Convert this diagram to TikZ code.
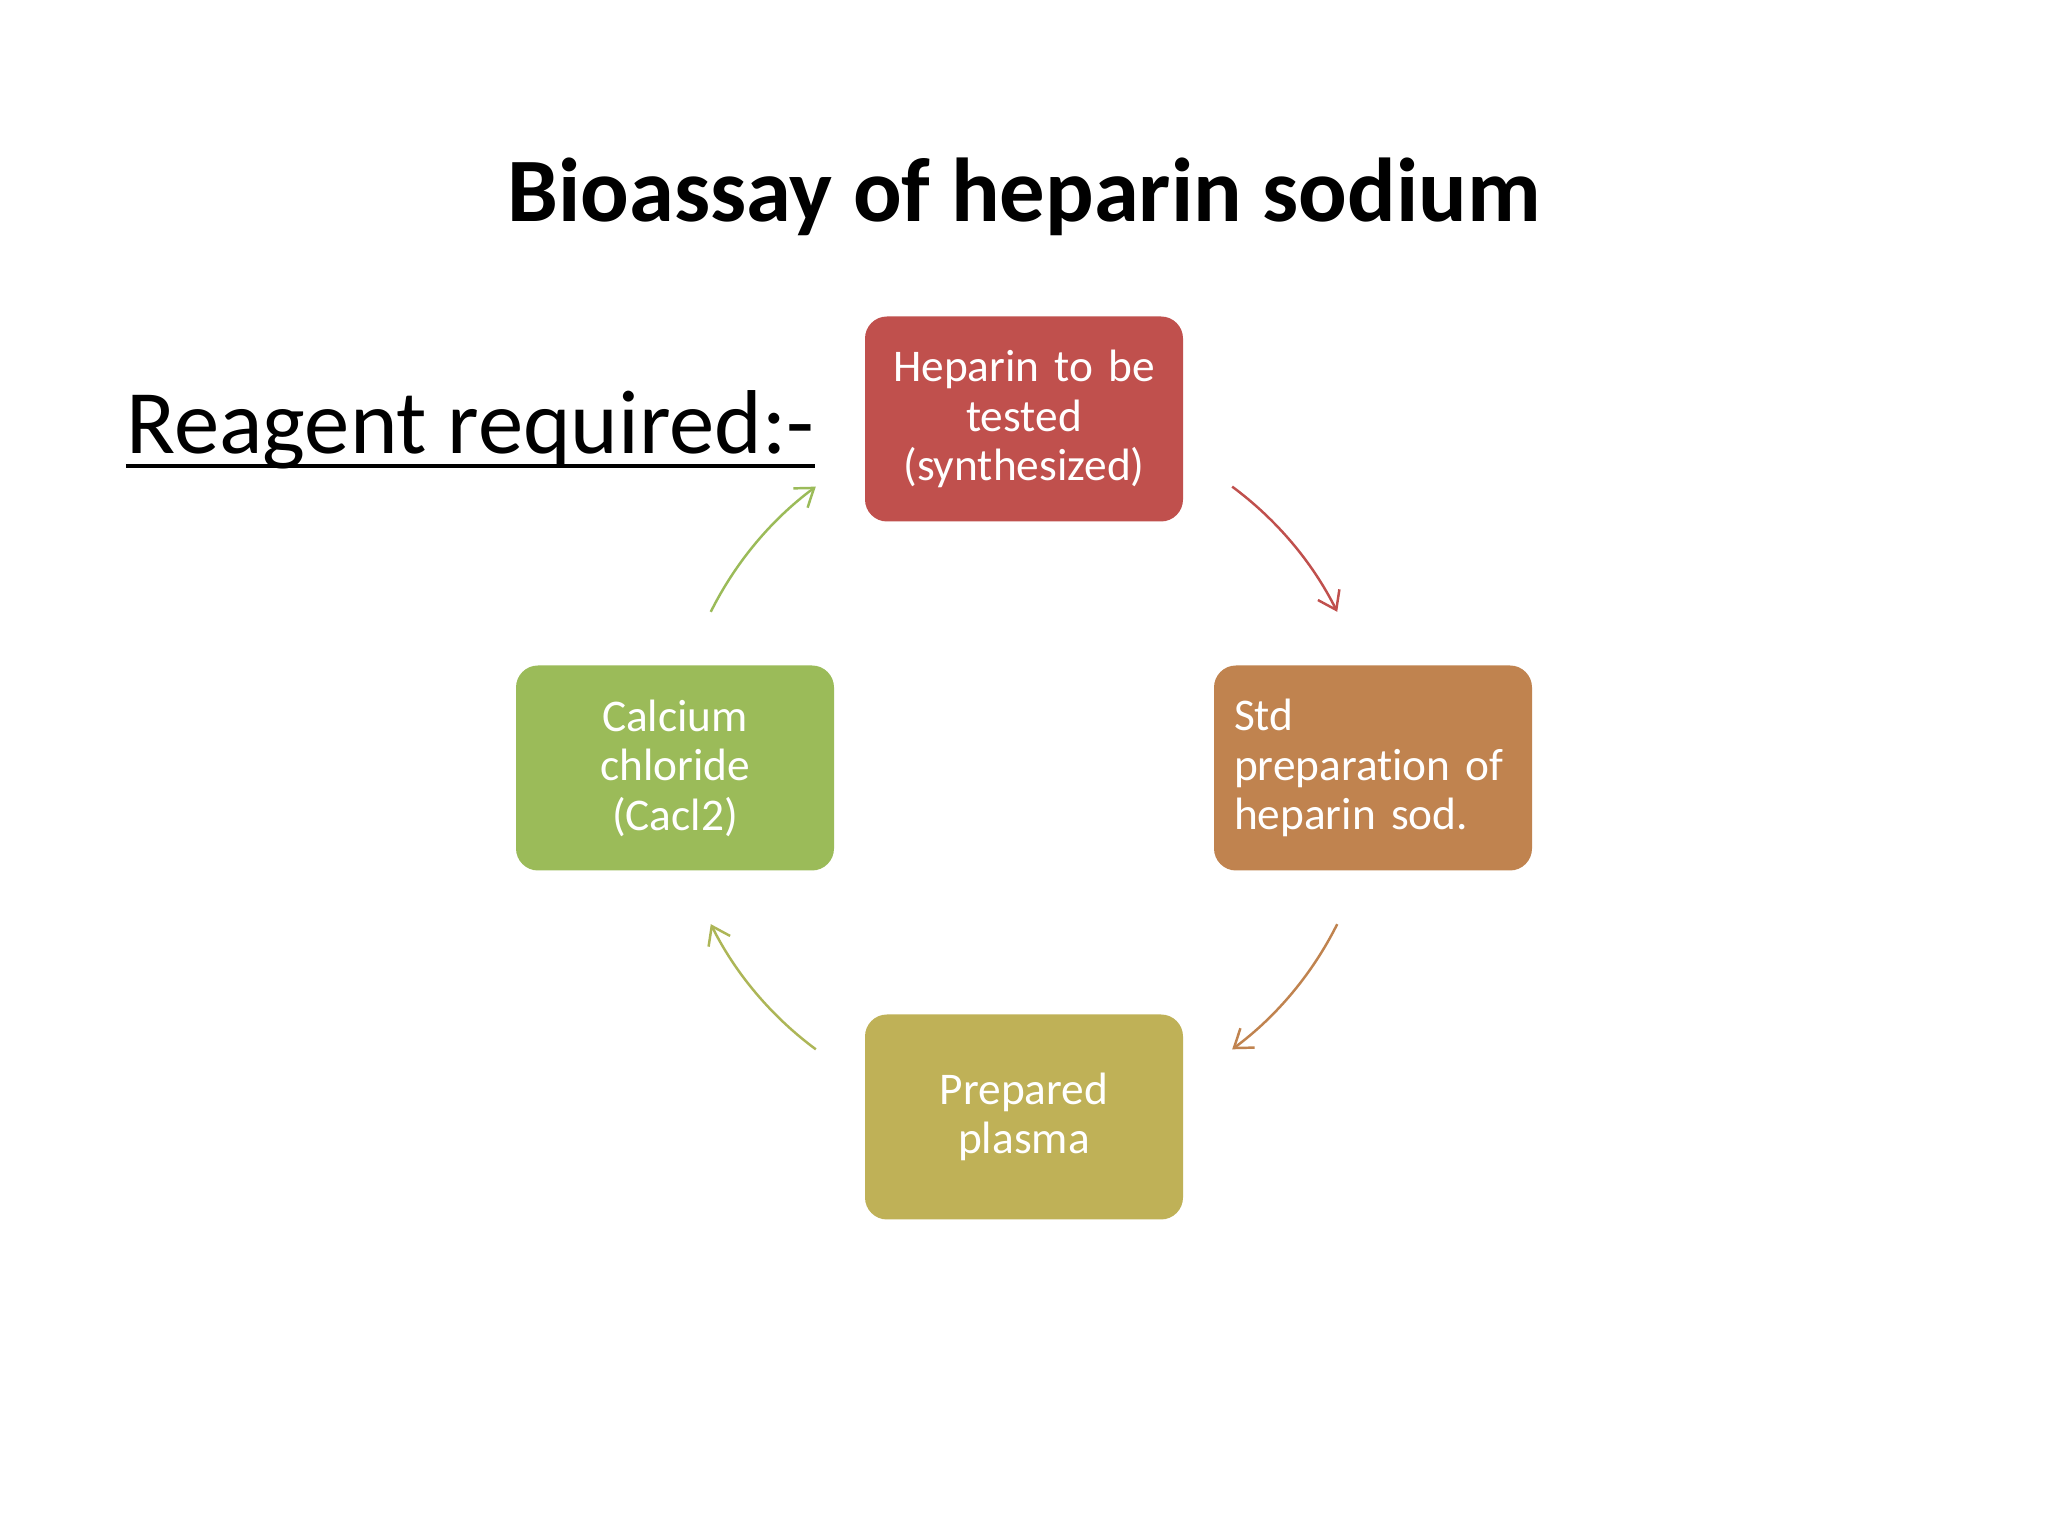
\documentclass[tikz,border=0pt]{standalone}
\usepackage{fontspec}
\setmainfont{Carlito}[Ligatures={NoCommon}]
\usepackage{xcolor}
\usepackage{tikz}
\usetikzlibrary{arrows.meta,calc,positioning}
\definecolor{rojo}{HTML}{C0504D}
\definecolor{ocre}{HTML}{C0834F}
\definecolor{oliva}{HTML}{BFB157}
\definecolor{verde}{HTML}{9BBB59}
\definecolor{oliverde}{HTML}{ADB657}
\tikzset{
  bloque/.style={rounded corners=0.22cm,text=white,minimum width=3.18cm,minimum height=2.05cm,
    inner xsep=0.2cm,text width=2.78cm,align=center,font=\fontsize{12.9}{14.1}\selectfont},
  flecha/.style={-{Straight Barb[length=1.7mm,width=2.4mm]},line width=0.7pt}
}
\begin{document}
\begin{tikzpicture}
\useasboundingbox (0,0) rectangle (20.48,15.36);
\fill[white] (0,0) rectangle (20.48,15.36);
\coordinate (hub) at (10.24,7.68);
% titulos
\node[inner sep=0,anchor=base,font=\fontsize{25.8}{30}\selectfont\bfseries] (titulo) at (10.24,13.14) {Bioassay of heparin sodium};
\node[inner sep=0,anchor=base west,font=\fontsize{25.8}{30}\selectfont] (reagent) at (1.26,10.82) {Reagent required:-};
\draw[line width=1.1pt] ([yshift=-0.12cm]reagent.base west) -- ([yshift=-0.12cm]reagent.base east);
% bloques
\node[bloque,fill=rojo] (heparin) at ($(hub)+(0,3.49)$) {Heparin to be\\tested\\(synthesized)};
\node[bloque,fill=ocre,align=left] (stdprep) at ($(hub)+(3.49,0)$) {Std\\preparation of\\heparin sod.};
\node[bloque,fill=oliva] (plasma) at ($(hub)+(0,-3.49)$) {Prepared\\plasma};
\node[bloque,fill=verde] (cacl) at ($(hub)+(-3.49,0)$) {Calcium\\chloride\\(Cacl2)};
% flechas
\foreach \a/\c/\n in {53.5/rojo/f1, -26.5/ocre/f2, 233.5/oliverde/f3, 153.5/verde/f4}{
  \coordinate (\n) at ($(hub)+(\a:3.5)$);
  \draw[flecha,\c] (\n) arc[start angle=\a, end angle=\a-27, radius=3.5];}
\end{tikzpicture}
\end{document}
